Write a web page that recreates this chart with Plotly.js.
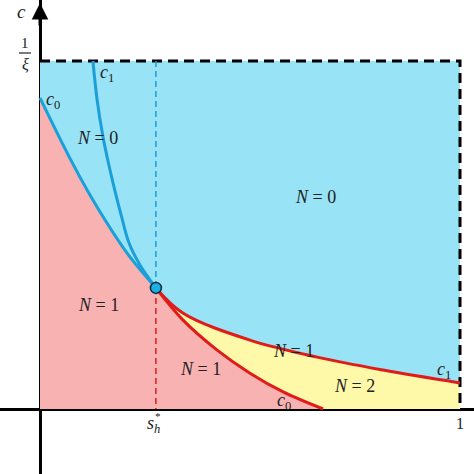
<!DOCTYPE html>
<html>
<head>
<meta charset="utf-8">
<script src="https://cdn.plot.ly/plotly-3.0.1.min.js"></script>
<style>
  html, body { margin: 0; padding: 0; background: #fff; }
  #chart { width: 474px; height: 474px; }
</style>
</head>
<body>
<div id="chart"></div>
<script>
// data in chart units: s from 0 to 1, c from 0 to 1/xi (= 1)
const sStar = 0.276;
const cStar = 0.348;
const sBox = [0, 1];
const cBox = [1, 1];

const c0S = [0, 0.071, 0.119, 0.167, 0.214, 0.276, 0.340, 0.421, 0.500, 0.579, 0.674];
const c0C = [0.894, 0.721, 0.615, 0.520, 0.437, 0.348, 0.256, 0.170, 0.103, 0.049, 0];

const c1S = [0.126, 0.136, 0.150, 0.164, 0.179, 0.195, 0.212, 0.238, 0.276, 0.340, 0.500, 0.660, 0.817, 1];
const c1C = [1, 0.888, 0.782, 0.701, 0.624, 0.549, 0.477, 0.414, 0.348, 0.276, 0.198, 0.149, 0.112, 0.075];

const BLUE_FILL = "#98e3f6";
const PINK_FILL = "#f9b2b2";
const YELLOW_FILL = "#fdf9a9";
const BLUE_LINE = "#1b9fd9";
const RED_LINE = "#e01c1a";

const W = 474;
// pixel -> paper helpers for labels
function px(x) { return x / W; }
function py(y) { return 1 - y / W; }

// split a curve at the s* point
function splitAt(xs, ys, s) {
    const k = xs.indexOf(s);
    return {
        left: { x: xs.slice(0, k + 1), y: ys.slice(0, k + 1) },
        right: { x: xs.slice(k), y: ys.slice(k) }
    };
}

const c0 = splitAt(c0S, c0C, sStar);
const c1 = splitAt(c1S, c1C, sStar);

const traces = [
    // whole box, N = 0
    { x: sBox, y: cBox, mode: "lines", fill: "tozeroy", fillcolor: BLUE_FILL,
      line: { width: 0 }, hoverinfo: "skip" },
    // under c1 to the right of s*, N = 2
    { x: c1.right.x, y: c1.right.y, mode: "lines", fill: "tozeroy", fillcolor: YELLOW_FILL,
      line: { width: 0, shape: "spline" }, hoverinfo: "skip" },
    // under c0, N = 1
    { x: c0S, y: c0C, mode: "lines", fill: "tozeroy", fillcolor: PINK_FILL,
      line: { width: 0, shape: "spline" }, hoverinfo: "skip" },
    // box border
    { x: [sBox[0], sBox[1], sBox[1]], y: [cBox[0], cBox[1], 0], mode: "lines",
      line: { color: "#000", width: 3, dash: "10px,6px" }, hoverinfo: "skip" },
    // s* guides
    { x: [sStar, sStar], y: [cBox[0], cStar], mode: "lines",
      line: { color: BLUE_LINE, width: 1.5, dash: "6px,4px" }, hoverinfo: "skip" },
    { x: [sStar, sStar], y: [cStar, 0], mode: "lines",
      line: { color: RED_LINE, width: 1.5, dash: "6px,4px" }, hoverinfo: "skip" },
    // curves
    { x: c0.left.x, y: c0.left.y, mode: "lines", line: { color: BLUE_LINE, width: 3, shape: "spline" } },
    { x: c1.left.x, y: c1.left.y, mode: "lines", line: { color: BLUE_LINE, width: 3, shape: "spline" } },
    { x: c0.right.x, y: c0.right.y, mode: "lines", line: { color: RED_LINE, width: 3, shape: "spline" } },
    { x: c1.right.x, y: c1.right.y, mode: "lines", line: { color: RED_LINE, width: 3, shape: "spline" } },
    // meeting point
    { x: [sStar], y: [cStar], mode: "markers",
      marker: { size: 11, color: "#1eaee3", line: { color: "#0a2a40", width: 1.5 } } }
];

const serif = { family: "Liberation Serif, DejaVu Serif, serif", size: 18, color: "#222" };

function label(text, x, y, size) {
    return { text: text, x: px(x), y: py(y), xref: "paper", yref: "paper",
             showarrow: false, xanchor: "center", yanchor: "middle",
             font: Object.assign({}, serif, size ? { size: size } : {}) };
}

const annotations = [
    label("<i>c</i>", 21, 11, 19),
    label("1", 25, 43, 15),
    label("<i>ξ</i>", 25, 64, 16),
    label("<i>c</i><sub>0</sub>", 53, 101),
    label("<i>c</i><sub>1</sub>", 107, 73),
    label("<i>N</i> = 0", 97, 138),
    label("<i>N</i> = 0", 315, 197),
    label("<i>N</i> = 1", 98, 305),
    label("<i>N</i> = 1", 200, 369),
    label("<i>N</i> = 1", 293, 351),
    label("<i>N</i> = 2", 354, 386),
    label("<i>c</i><sub>0</sub>", 284, 401),
    label("<i>c</i><sub>1</sub>", 444, 370),
    label("<i>s</i><sub><i>h</i></sub>", 153, 424),
    label("*", 158, 416, 11),
    label("1", 460, 423, 16),
    // y axis arrow head
    { x: px(40), y: py(3), xref: "paper", yref: "paper", ax: 0, ay: 24,
      showarrow: true, arrowhead: 2, arrowsize: 1.1, arrowwidth: 3, arrowcolor: "#000", text: "" }
];

const shapes = [
    // fraction bar of 1/xi
    { type: "line", xref: "paper", yref: "paper", x0: px(19), x1: px(31), y0: py(53), y1: py(53),
      line: { color: "#222", width: 1.2 } }
];

const layout = {
    width: 474,
    height: 474,
    margin: { l: 0, r: 0, t: 0, b: 0 },
    paper_bgcolor: "#fff",
    plot_bgcolor: "#fff",
    showlegend: false,
    xaxis: { range: [-40 / 420, 434 / 420], showgrid: false, showticklabels: false, ticks: "",
             zeroline: true, zerolinecolor: "#000", zerolinewidth: 3, fixedrange: true },
    yaxis: { range: [-65 / 348, 409 / 348], showgrid: false, showticklabels: false, ticks: "",
             zeroline: true, zerolinecolor: "#000", zerolinewidth: 3, fixedrange: true },
    annotations: annotations,
    shapes: shapes
};

Plotly.newPlot("chart", traces, layout, { displayModeBar: false, staticPlot: true });
</script>
</body>
</html>
